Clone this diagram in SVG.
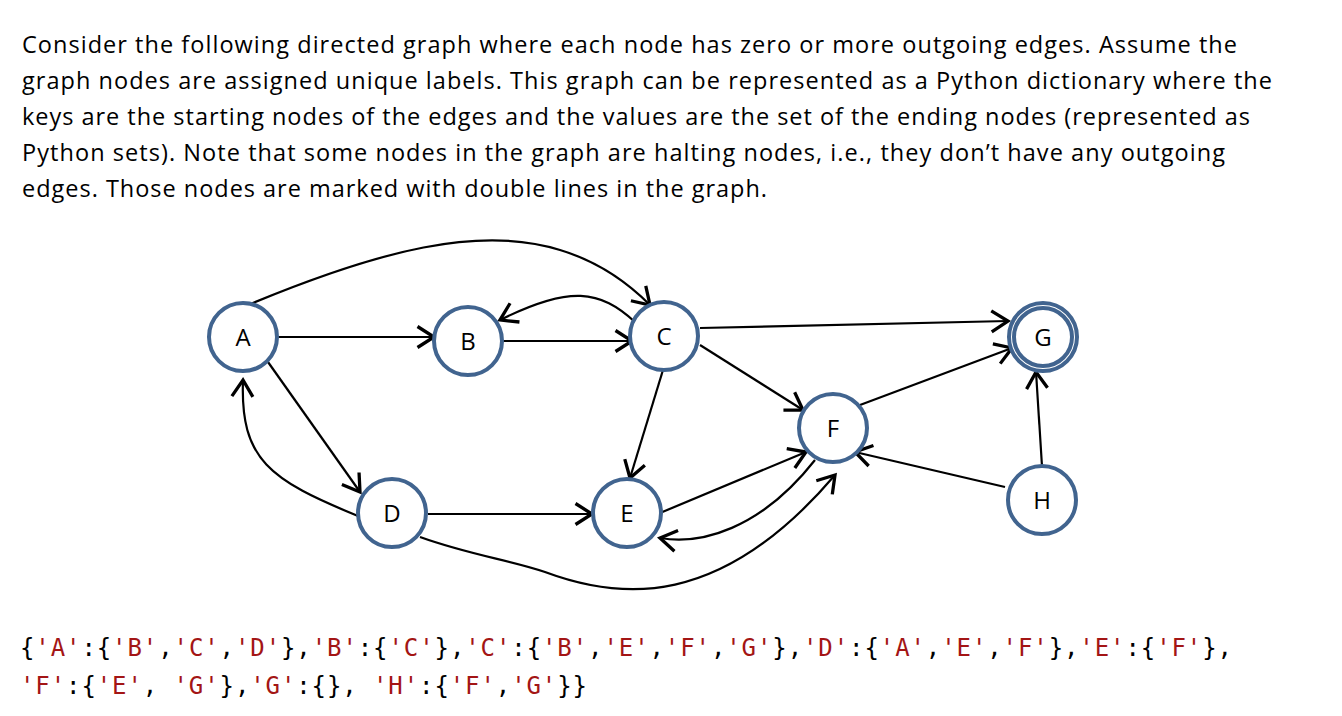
<svg xmlns="http://www.w3.org/2000/svg" width="1342" height="716" viewBox="0 0 1342 716">
<style>
.p{font-family:"Open Sans","Liberation Sans",sans-serif;font-size:23.5px;fill:#000}
.n circle{fill:#fff;stroke:#41648f;stroke-width:4}
.n text{font-family:"Open Sans","Liberation Sans",sans-serif;font-size:24px;text-anchor:middle;fill:#000}
.e path{fill:none;stroke:#000;stroke-width:2.2;marker-end:url(#ar)}
.c{font-family:"DejaVu Sans Mono","Liberation Mono",monospace;font-size:24px;fill:#000}
.s{fill:#a31515}
</style>
<defs><marker id="ar" markerUnits="userSpaceOnUse" markerWidth="30" markerHeight="30" refX="0" refY="0" viewBox="-14 -10 16 20" orient="auto"><path d="M-11,-7 L0,0 L-11,7" fill="none" stroke="#000" stroke-width="2.2"/></marker></defs>
<rect width="1342" height="716" fill="#fff"/>
<text class="p" x="22" y="53" textLength="1215">Consider the following directed graph where each node has zero or more outgoing edges. Assume the</text>
<text class="p" x="22" y="89" textLength="1250">graph nodes are assigned unique labels. This graph can be represented as a Python dictionary where  the</text>
<text class="p" x="22" y="125" textLength="1228">keys are the starting nodes of the edges and the values are the set of the ending nodes (represented as</text>
<text class="p" x="22" y="161" textLength="1203">Python sets). Note that some nodes in the graph are halting nodes, i.e., they don’t have any outgoing</text>
<text class="p" x="22" y="197" textLength="745">edges. Those nodes are marked with double lines in the graph.</text>
<g class="e">
<path d="M248,305 C380,250 480,225 560,250 C600,262 630,285 650,305"/>
<path d="M635,322 C600,290 570,285 500,320"/>
<path d="M358,516 C270,480 240,460 243,380"/>
<path d="M420,537 C470,555 510,560 545,572 C620,600 720,610 835,475"/>
<path d="M815,460 C760,530 700,545 660,538"/>
<path d="M660,513 L806,452"/>
<path d="M700,345 L803,410"/>
<path d="M700,328 L1008,321"/>
<path d="M860,405 L1012,348"/>
<path d="M1005,487 L855,452"/>
<path d="M1042,466 L1036,372"/>
<path d="M663,370 L630,478"/>
<path d="M268,362 L360,492"/>
<path d="M278,337 L434,337"/>
<path d="M502,341 L632,341"/>
<path d="M428,514 L592,514"/>
</g>
<g id="A" class="n"><circle cx="243" cy="337" r="34"/><text x="243" y="346">A</text></g>
<g id="B" class="n"><circle cx="468" cy="341" r="34"/><text x="468" y="350">B</text></g>
<g id="C" class="n"><circle cx="664" cy="336" r="34"/><text x="664" y="345">C</text></g>
<g id="D" class="n"><circle cx="392" cy="513" r="34"/><text x="392" y="522">D</text></g>
<g id="E" class="n"><circle cx="627" cy="513" r="34"/><text x="627" y="522">E</text></g>
<g id="F" class="n"><circle cx="833" cy="428" r="34"/><text x="833" y="437">F</text></g>
<g id="G" class="n"><circle cx="1043" cy="337" r="34"/><circle cx="1043" cy="337" r="29" stroke-width="1.8"/><text x="1043" y="346">G</text></g>
<g id="H" class="n"><circle cx="1042" cy="500" r="34"/><text x="1042" y="509">H</text></g>
<text class="c" x="20" y="656" textLength="1212" lengthAdjust="spacing">{<tspan class="s">'A'</tspan>:{<tspan class="s">'B'</tspan>,<tspan class="s">'C'</tspan>,<tspan class="s">'D'</tspan>},<tspan class="s">'B'</tspan>:{<tspan class="s">'C'</tspan>},<tspan class="s">'C'</tspan>:{<tspan class="s">'B'</tspan>,<tspan class="s">'E'</tspan>,<tspan class="s">'F'</tspan>,<tspan class="s">'G'</tspan>},<tspan class="s">'D'</tspan>:{<tspan class="s">'A'</tspan>,<tspan class="s">'E'</tspan>,<tspan class="s">'F'</tspan>},<tspan class="s">'E'</tspan>:{<tspan class="s">'F'</tspan>},</text>
<text class="c" x="20" y="694" textLength="567" lengthAdjust="spacing"><tspan class="s">'F'</tspan>:{<tspan class="s">'E'</tspan>, <tspan class="s">'G'</tspan>},<tspan class="s">'G'</tspan>:{}, <tspan class="s">'H'</tspan>:{<tspan class="s">'F'</tspan>,<tspan class="s">'G'</tspan>}}</text>
</svg>
